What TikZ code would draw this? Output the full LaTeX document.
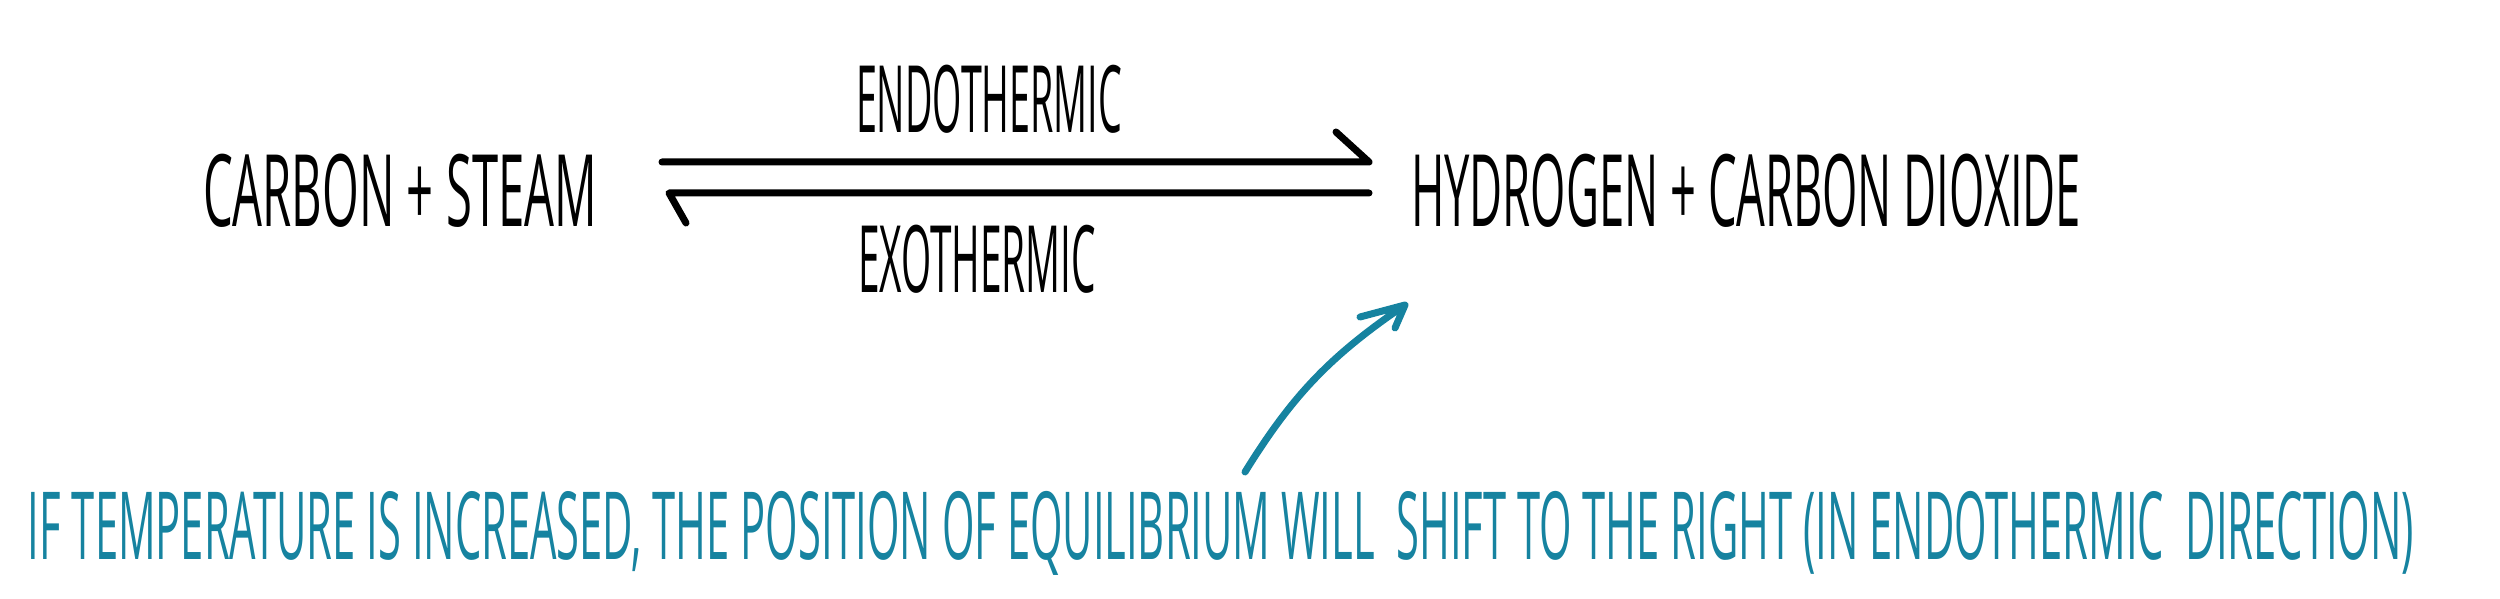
\documentclass[tikz,border=0pt]{standalone}
\usepackage{fontspec}
\setmainfont{Open Sans}
\usepackage{tikz}
\usetikzlibrary{positioning}
\usepackage{xcolor}
\definecolor{noteteal}{RGB}{22,131,160}
\newcommand{\squeeze}[2]{\resizebox{#1}{\height}{#2}}

\begin{document}
\begin{tikzpicture}[x=1pt, y=1pt,
  every node/.style={inner sep=0pt},
  chem/.style={font=\fontsize{100}{100}\selectfont, anchor=base},
  cond/.style={font=\fontsize{93}{93}\selectfont, anchor=base},
  note/.style={font=\fontsize{94}{94}\selectfont, anchor=base, text=noteteal},
  eqline/.style={line width=7pt, line cap=round, line join=round},
  notearrow/.style={draw=noteteal, line width=7pt, line cap=round, line join=round}]
  \useasboundingbox (0,0) rectangle (2500,599);
  \node[chem] (reac) at (400,372) {\squeeze{394pt}{CARBON + STEAM}};
  \node[chem] (prod) at (1746,372) {\squeeze{670pt}{HYDROGEN + CARBON DIOXIDE}};
  \node[cond] (endo) at (989,466) {\squeeze{266pt}{ENDOTHERMIC}};
  \node[cond] (exo) at (977,306) {\squeeze{238pt}{EXOTHERMIC}};
  \node[note] (hint) at (1221,39) {\squeeze{2386pt}{IF TEMPERATURE IS INCREASED, THE POSITION OF EQUILIBRIUM WILL\ \ SHIFT TO THE RIGHT (IN ENDOTHERMIC\ \ DIRECTION)}};
  % equilibrium half arrows
  \coordinate (fwdS) at (662,437);
  \coordinate (fwdE) at (1369,437);
  \coordinate (revS) at (1369,406);
  \coordinate (revE) at (669,406);
  \draw[eqline] (fwdS) -- (fwdE) -- ++(-33,30);
  \draw[eqline] (revS) -- (revE) -- ++(17,-30);
  % pointer to the products
  \coordinate (hintTail) at (1245,127);
  \coordinate (hintHead) at (1405,294);
  \draw[notearrow] (hintTail) to[bend left=12] (hintHead) -- ++(-45,-12)
    (hintHead) -- ++(-10,-23);
\end{tikzpicture}
\end{document}
